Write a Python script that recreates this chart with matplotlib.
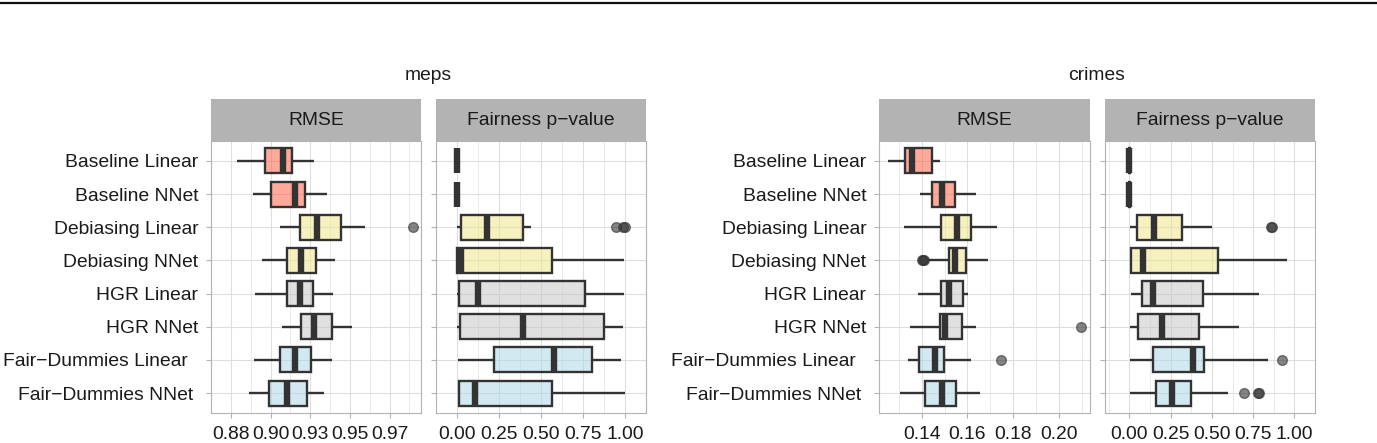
import matplotlib
matplotlib.use('Agg')
import matplotlib.pyplot as plt
from matplotlib.lines import Line2D
from matplotlib.colors import to_rgba

plt.rcParams['font.family'] = ['Liberation Sans', 'DejaVu Sans']

# methods, top to bottom (trailing spaces as in the original labels)
methods = ['Baseline Linear', 'Baseline NNet', 'Debiasing Linear', 'Debiasing NNet',
           'HGR Linear', 'HGR NNet', 'Fair\u2212Dummies Linear  ', 'Fair\u2212Dummies NNet ']
groups = ['Baseline', 'Baseline', 'Debiasing', 'Debiasing', 'HGR', 'HGR', 'FairDummies', 'FairDummies']
datasets = ['meps', 'crimes']
metrics = ['RMSE', 'Fairness p\u2212value']

# box stats per method: [whisker low, q1, median, q3, whisker high]
meps_rmse_box = [
    [0.8788, 0.8965, 0.9077, 0.9135, 0.9275],
    [0.8890, 0.9006, 0.9154, 0.9215, 0.9356],
    [0.9058, 0.9188, 0.9292, 0.9442, 0.9596],
    [0.8948, 0.9104, 0.9192, 0.9285, 0.9408],
    [0.8900, 0.9104, 0.9183, 0.9269, 0.9396],
    [0.9073, 0.9192, 0.9275, 0.9385, 0.9515],
    [0.8896, 0.9058, 0.9154, 0.9256, 0.9385],
    [0.8865, 0.8992, 0.9102, 0.9227, 0.9338],
]
meps_rmse_out = [[], [], [0.9896], [], [], [], [], []]

meps_fair_box = [
    [0.0, 0.0, 0.0, 0.001, 0.002],
    [0.0, 0.0, 0.0, 0.001, 0.002],
    [0.0, 0.026, 0.178, 0.394, 0.441],
    [0.0, 0.0, 0.026, 0.567, 0.995],
    [0.0, 0.009, 0.126, 0.761, 0.995],
    [0.0, 0.017, 0.391, 0.874, 0.991],
    [0.005, 0.221, 0.576, 0.806, 0.974],
    [0.005, 0.009, 0.109, 0.567, 1.0],
]
meps_fair_out = [[], [], [0.948, 0.99, 1.0], [], [], [], [], []]

crimes_rmse_box = [
    [0.1254, 0.1327, 0.1359, 0.1445, 0.1480],
    [0.1393, 0.1445, 0.1489, 0.1546, 0.1637],
    [0.1324, 0.1484, 0.1556, 0.1614, 0.1731],
    [0.1429, 0.1521, 0.1546, 0.1594, 0.1690],
    [0.1383, 0.1484, 0.1521, 0.1579, 0.1604],
    [0.1349, 0.1480, 0.1503, 0.1576, 0.1637],
    [0.1339, 0.1388, 0.1460, 0.1498, 0.1616],
    [0.1305, 0.1415, 0.1489, 0.1550, 0.1655],
]
crimes_rmse_out = [[], [], [], [0.1400, 0.1405, 0.1410], [], [0.2096], [0.1748], []]

crimes_fair_box = [
    [0.0, 0.0, 0.0, 0.001, 0.002],
    [0.0, 0.0, 0.0, 0.001, 0.002],
    [0.004, 0.047, 0.152, 0.317, 0.503],
    [0.004, 0.009, 0.085, 0.535, 0.956],
    [0.009, 0.074, 0.142, 0.446, 0.786],
    [0.004, 0.055, 0.199, 0.421, 0.662],
    [0.004, 0.140, 0.383, 0.450, 0.839],
    [0.004, 0.159, 0.258, 0.376, 0.598],
]
crimes_fair_out = [[], [], [0.858, 0.867], [], [], [], [0.922], [0.693, 0.778, 0.787]]

# axis ticks
meps_rmse_ticks = [0.875, 0.9, 0.925, 0.95, 0.975]
meps_rmse_labels = ['0.88', '0.90', '0.93', '0.95', '0.97']
crimes_rmse_ticks = [0.14, 0.16, 0.18, 0.20]
crimes_rmse_labels = ['0.14', '0.16', '0.18', '0.20']
fair_ticks = [0.0, 0.25, 0.5, 0.75, 1.0]
fair_labels = ['0.00', '0.25', '0.50', '0.75', '1.00']

group_colors = {'Baseline': '#FF6347', 'Debiasing': '#F0E68C', 'HGR': '#C8C8C8', 'FairDummies': '#ADD8E6'}

W, H = 1377, 443
fig = plt.figure(figsize=(W / 100, H / 100), dpi=100)

# page rule at the top
fig.add_artist(Line2D([0, 1], [1 - 2.5 / H] * 2, color='#111111', lw=1.6))

panel_top, panel_bot, strip_top = 141, 413, 99
panels = [
    (211, 421, 'meps', 0, meps_rmse_box, meps_rmse_out, meps_rmse_ticks, meps_rmse_labels, (0.8736, 0.9948)),
    (436, 646, 'meps', 1, meps_fair_box, meps_fair_out, fair_ticks, fair_labels, (-0.05, 1.05)),
    (879, 1090, 'crimes', 0, crimes_rmse_box, crimes_rmse_out, crimes_rmse_ticks, crimes_rmse_labels, (0.1213, 0.2136)),
    (1105, 1315, 'crimes', 1, crimes_fair_box, crimes_fair_out, fair_ticks, fair_labels, (-0.148, 1.047)),
]

txt = '#1A1A1A'
fs = 13.9
pos = list(range(1, len(methods) + 1))

for x0, x1, ds, mi, box, out, ticks, labels, xlim in panels:
    ax = fig.add_axes([x0 / W, 1 - panel_bot / H, (x1 - x0) / W, (panel_bot - panel_top) / H])
    stats = []
    for b, o in zip(box, out):
        stats.append({'whislo': b[0], 'q1': b[1], 'med': b[2], 'q3': b[3], 'whishi': b[4], 'fliers': o})
    bp = ax.bxp(stats, positions=pos, widths=0.75, orientation='horizontal', patch_artist=True,
                showcaps=False,
                boxprops=dict(edgecolor='#333333', linewidth=1.7),
                whiskerprops=dict(color='#333333', linewidth=1.7, solid_capstyle='butt'),
                medianprops=dict(color='#333333', linewidth=4.6, solid_capstyle='butt'),
                flierprops=dict(marker='o', markerfacecolor=to_rgba('#333333', 0.6),
                                markeredgecolor=to_rgba('#333333', 0.6), markersize=7))
    for patch, g in zip(bp['boxes'], groups):
        patch.set_facecolor(to_rgba(group_colors[g], 0.55))

    ax.set_xlim(*xlim)
    ax.set_ylim(len(methods) + 0.6, 0.4)
    ax.set_xticks(ticks)
    ax.set_xticklabels(labels)
    step = ticks[1] - ticks[0]
    minors = [t - step / 2 for t in ticks] + [ticks[-1] + step / 2]
    ax.set_xticks(minors, minor=True)
    ax.set_yticks(pos)
    if mi == 0:
        ax.set_yticklabels(methods)
    else:
        ax.set_yticklabels([])
        ax.tick_params(axis='y', length=0)

    ax.set_axisbelow(True)
    ax.grid(which='major', color='#DEDEDE', lw=0.8)
    ax.grid(which='minor', axis='x', color='#E6E6E6', lw=0.6)
    for s in ax.spines.values():
        s.set_color('#B3B3B3')
        s.set_linewidth(0.8)
    ax.tick_params(which='major', color='#B3B3B3', width=0.8, length=3.6, pad=6,
                   labelsize=fs, labelcolor=txt)
    ax.tick_params(which='minor', length=0)
    if mi == 0:
        ax.tick_params(axis='y', pad=5.5)

    # facet strip
    sax = fig.add_axes([x0 / W, 1 - panel_top / H, (x1 - x0) / W, (panel_top - strip_top) / H])
    sax.set_facecolor('#B3B3B3')
    sax.set_xticks([])
    sax.set_yticks([])
    for s in sax.spines.values():
        s.set_visible(False)
    sax.text(0.5, 0.48, metrics[mi], ha='center', va='center', fontsize=fs, color=txt,
             transform=sax.transAxes)

fig.text(428.5 / W, 1 - 76 / H, 'meps', ha='center', va='center', fontsize=fs, color=txt)
fig.text(1097 / W, 1 - 76 / H, 'crimes', ha='center', va='center', fontsize=fs, color=txt)

fig.savefig('out.png', dpi=100)
